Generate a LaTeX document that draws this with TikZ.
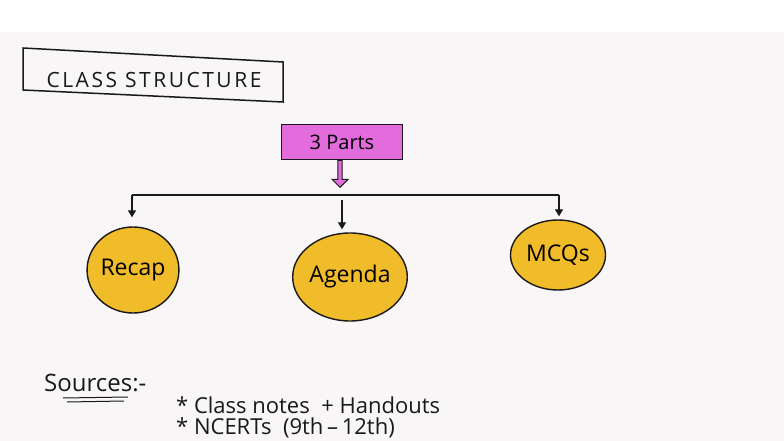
\documentclass[tikz,border=0pt]{standalone}
\usepackage{fontspec}
\setmainfont{Open Sans}
\usetikzlibrary{shapes.arrows,shapes.geometric,arrows.meta}
\definecolor{paper}{RGB}{248,246,246}
\definecolor{pinkfill}{RGB}{226,108,220}
\definecolor{gold}{RGB}{241,188,42}
\definecolor{ink}{RGB}{25,25,25}
\tikzset{
  x=1pt,y=-1pt,
  bubble/.style={ellipse,draw=ink,line width=1.4pt,fill=gold,inner sep=0pt,font=\fontsize{23}{25}\selectfont},
  conn/.style={draw=ink,line width=1.3pt},
  arr/.style={conn,-{Triangle[length=7pt,width=8pt]}},
  txt/.style={font=\fontsize{22}{25}\selectfont,text=ink,inner sep=0pt,anchor=west},
}
\begin{document}
\begin{tikzpicture}
\useasboundingbox (0,0) rectangle (784,441);
\clip (0,0) rectangle (784,441);
\fill[white] (0,0) rectangle (784,441);
\fill[paper] (0,32) rectangle (784,441);

% title
\node[font=\fontsize{21}{23}\selectfont\addfontfeature{LetterSpace=12},text=ink,inner sep=0pt] (title) at (154,80) {CLASS STRUCTURE};
\draw[ink,line width=1.5pt] (23,48) -- (283,62) -- (283,102) -- (23,90) -- cycle;

% 3 parts box
\node[draw=ink,line width=1.5pt,fill=pinkfill,minimum width=121pt,minimum height=35pt,font=\fontsize{20}{22}\selectfont] (parts) at (342,142) {3 Parts};
\node[single arrow,shape border rotate=270,draw=ink,line width=0.9pt,fill=pinkfill,minimum height=27pt,minimum width=16pt,single arrow head extend=4pt,single arrow head indent=0pt,inner sep=1pt,anchor=tip] (down) at (340,188) {};

% bus
\coordinate (busL) at (132,195);
\coordinate (busM) at (342,195);
\coordinate (busR) at (559,195);
\draw[conn] (busL) -- (busR);

% bubbles
\node[bubble,minimum width=88pt,minimum height=86pt] (recap) at (133,270) {Recap};
\node[bubble,minimum width=110pt,minimum height=88pt] (agenda) at (350,277) {Agenda};
\node[bubble,minimum width=95pt,minimum height=70pt] (mcqs) at (558,255) {MCQs};

\draw[arr,shorten >=9pt] (busL) -- (busL |- recap.north);
\draw[arr,shorten <=5pt,shorten >=3pt] (busM) -- (busM |- agenda.north);
\draw[arr,shorten >=3pt] (busR) -- (busR |- mcqs.north);

% sources
\node[txt,font=\fontsize{24}{27}\selectfont] (src) at (44,383) {Sources:-};
\draw[ink,line width=1pt] (63,398) -- (128,397);
\draw[ink,line width=1pt] (67,402) -- (124,401);
\node[txt] (s1) at (176,405) {* Class notes \ + Handouts};
\node[txt] (s2) at (176,428) {* NCERTs \ (9th\,–\,12th)};
\end{tikzpicture}
\end{document}
